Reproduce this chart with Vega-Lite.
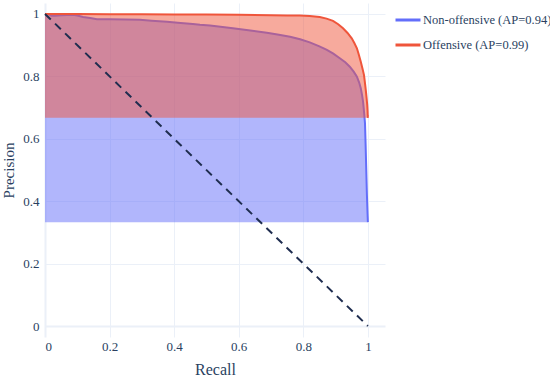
{
  "$schema": "https://vega.github.io/schema/vega-lite/v6.json",
  "width": 340,
  "height": 334,
  "autosize": {"type": "none"},
  "padding": {"left": 45, "top": 3, "right": 165, "bottom": 45},
  "background": "white",
  "config": {
    "font": "Liberation Serif, serif",
    "view": {"stroke": null},
    "axis": {
      "domain": false,
      "ticks": false,
      "labelFont": "Liberation Serif, serif",
      "titleFont": "Liberation Serif, serif",
      "labelColor": "#2a3f5f",
      "titleColor": "#2a3f5f",
      "labelFontSize": 13,
      "titleFontSize": 16,
      "titleFontWeight": "normal",
      "gridColor": "#ebf0f8",
      "gridWidth": {"condition": {"test": "datum.value === 0", "value": 2}, "value": 1}
    },
    "legend": {
      "labelFont": "Liberation Serif, serif",
      "labelColor": "#2a3f5f",
      "labelFontSize": 12.5,
      "labelLimit": 300
    }
  },
  "datasets": {
    "curves": [
      {"series": "Non-offensive (AP=0.94)", "recall": 0.0, "precision": 1.0, "base": 0.333},
      {"series": "Non-offensive (AP=0.94)", "recall": 0.01, "precision": 1.0, "base": 0.333},
      {"series": "Non-offensive (AP=0.94)", "recall": 0.02, "precision": 0.994, "base": 0.333},
      {"series": "Non-offensive (AP=0.94)", "recall": 0.031, "precision": 0.994, "base": 0.333},
      {"series": "Non-offensive (AP=0.94)", "recall": 0.05, "precision": 0.996, "base": 0.333},
      {"series": "Non-offensive (AP=0.94)", "recall": 0.087, "precision": 0.997, "base": 0.333},
      {"series": "Non-offensive (AP=0.94)", "recall": 0.1, "precision": 0.995, "base": 0.333},
      {"series": "Non-offensive (AP=0.94)", "recall": 0.118, "precision": 0.99, "base": 0.333},
      {"series": "Non-offensive (AP=0.94)", "recall": 0.14, "precision": 0.987, "base": 0.333},
      {"series": "Non-offensive (AP=0.94)", "recall": 0.161, "precision": 0.983, "base": 0.333},
      {"series": "Non-offensive (AP=0.94)", "recall": 0.2, "precision": 0.983, "base": 0.333},
      {"series": "Non-offensive (AP=0.94)", "recall": 0.25, "precision": 0.982, "base": 0.333},
      {"series": "Non-offensive (AP=0.94)", "recall": 0.294, "precision": 0.981, "base": 0.333},
      {"series": "Non-offensive (AP=0.94)", "recall": 0.33, "precision": 0.978, "base": 0.333},
      {"series": "Non-offensive (AP=0.94)", "recall": 0.378, "precision": 0.975, "base": 0.333},
      {"series": "Non-offensive (AP=0.94)", "recall": 0.42, "precision": 0.971, "base": 0.333},
      {"series": "Non-offensive (AP=0.94)", "recall": 0.458, "precision": 0.968, "base": 0.333},
      {"series": "Non-offensive (AP=0.94)", "recall": 0.48, "precision": 0.965, "base": 0.333},
      {"series": "Non-offensive (AP=0.94)", "recall": 0.511, "precision": 0.963, "base": 0.333},
      {"series": "Non-offensive (AP=0.94)", "recall": 0.55, "precision": 0.958, "base": 0.333},
      {"series": "Non-offensive (AP=0.94)", "recall": 0.582, "precision": 0.954, "base": 0.333},
      {"series": "Non-offensive (AP=0.94)", "recall": 0.63, "precision": 0.948, "base": 0.333},
      {"series": "Non-offensive (AP=0.94)", "recall": 0.687, "precision": 0.94, "base": 0.333},
      {"series": "Non-offensive (AP=0.94)", "recall": 0.72, "precision": 0.934, "base": 0.333},
      {"series": "Non-offensive (AP=0.94)", "recall": 0.759, "precision": 0.927, "base": 0.333},
      {"series": "Non-offensive (AP=0.94)", "recall": 0.79, "precision": 0.919, "base": 0.333},
      {"series": "Non-offensive (AP=0.94)", "recall": 0.82, "precision": 0.909, "base": 0.333},
      {"series": "Non-offensive (AP=0.94)", "recall": 0.85, "precision": 0.896, "base": 0.333},
      {"series": "Non-offensive (AP=0.94)", "recall": 0.873, "precision": 0.885, "base": 0.333},
      {"series": "Non-offensive (AP=0.94)", "recall": 0.893, "precision": 0.873, "base": 0.333},
      {"series": "Non-offensive (AP=0.94)", "recall": 0.913, "precision": 0.858, "base": 0.333},
      {"series": "Non-offensive (AP=0.94)", "recall": 0.93, "precision": 0.845, "base": 0.333},
      {"series": "Non-offensive (AP=0.94)", "recall": 0.944, "precision": 0.831, "base": 0.333},
      {"series": "Non-offensive (AP=0.94)", "recall": 0.956, "precision": 0.815, "base": 0.333},
      {"series": "Non-offensive (AP=0.94)", "recall": 0.966, "precision": 0.799, "base": 0.333},
      {"series": "Non-offensive (AP=0.94)", "recall": 0.973, "precision": 0.78, "base": 0.333},
      {"series": "Non-offensive (AP=0.94)", "recall": 0.978, "precision": 0.762, "base": 0.333},
      {"series": "Non-offensive (AP=0.94)", "recall": 0.982, "precision": 0.74, "base": 0.333},
      {"series": "Non-offensive (AP=0.94)", "recall": 0.985, "precision": 0.719, "base": 0.333},
      {"series": "Non-offensive (AP=0.94)", "recall": 0.987, "precision": 0.698, "base": 0.333},
      {"series": "Non-offensive (AP=0.94)", "recall": 0.989, "precision": 0.676, "base": 0.333},
      {"series": "Non-offensive (AP=0.94)", "recall": 0.991, "precision": 0.65, "base": 0.333},
      {"series": "Non-offensive (AP=0.94)", "recall": 0.993, "precision": 0.58, "base": 0.333},
      {"series": "Non-offensive (AP=0.94)", "recall": 0.995, "precision": 0.5, "base": 0.333},
      {"series": "Non-offensive (AP=0.94)", "recall": 0.997, "precision": 0.42, "base": 0.333},
      {"series": "Non-offensive (AP=0.94)", "recall": 0.999, "precision": 0.36, "base": 0.333},
      {"series": "Non-offensive (AP=0.94)", "recall": 1.0, "precision": 0.333, "base": 0.333},
      {"series": "Offensive (AP=0.99)", "recall": 0.0, "precision": 1.0, "base": 0.667},
      {"series": "Offensive (AP=0.99)", "recall": 0.1, "precision": 1.0, "base": 0.667},
      {"series": "Offensive (AP=0.99)", "recall": 0.2, "precision": 0.999, "base": 0.667},
      {"series": "Offensive (AP=0.99)", "recall": 0.3, "precision": 0.999, "base": 0.667},
      {"series": "Offensive (AP=0.99)", "recall": 0.4, "precision": 0.998, "base": 0.667},
      {"series": "Offensive (AP=0.99)", "recall": 0.5, "precision": 0.998, "base": 0.667},
      {"series": "Offensive (AP=0.99)", "recall": 0.6, "precision": 0.997, "base": 0.667},
      {"series": "Offensive (AP=0.99)", "recall": 0.7, "precision": 0.996, "base": 0.667},
      {"series": "Offensive (AP=0.99)", "recall": 0.75, "precision": 0.995, "base": 0.667},
      {"series": "Offensive (AP=0.99)", "recall": 0.789, "precision": 0.995, "base": 0.667},
      {"series": "Offensive (AP=0.99)", "recall": 0.82, "precision": 0.993, "base": 0.667},
      {"series": "Offensive (AP=0.99)", "recall": 0.851, "precision": 0.99, "base": 0.667},
      {"series": "Offensive (AP=0.99)", "recall": 0.872, "precision": 0.985, "base": 0.667},
      {"series": "Offensive (AP=0.99)", "recall": 0.892, "precision": 0.978, "base": 0.667},
      {"series": "Offensive (AP=0.99)", "recall": 0.908, "precision": 0.967, "base": 0.667},
      {"series": "Offensive (AP=0.99)", "recall": 0.923, "precision": 0.954, "base": 0.667},
      {"series": "Offensive (AP=0.99)", "recall": 0.937, "precision": 0.939, "base": 0.667},
      {"series": "Offensive (AP=0.99)", "recall": 0.95, "precision": 0.922, "base": 0.667},
      {"series": "Offensive (AP=0.99)", "recall": 0.958, "precision": 0.907, "base": 0.667},
      {"series": "Offensive (AP=0.99)", "recall": 0.966, "precision": 0.89, "base": 0.667},
      {"series": "Offensive (AP=0.99)", "recall": 0.972, "precision": 0.869, "base": 0.667},
      {"series": "Offensive (AP=0.99)", "recall": 0.978, "precision": 0.847, "base": 0.667},
      {"series": "Offensive (AP=0.99)", "recall": 0.983, "precision": 0.826, "base": 0.667},
      {"series": "Offensive (AP=0.99)", "recall": 0.988, "precision": 0.804, "base": 0.667},
      {"series": "Offensive (AP=0.99)", "recall": 0.991, "precision": 0.778, "base": 0.667},
      {"series": "Offensive (AP=0.99)", "recall": 0.994, "precision": 0.751, "base": 0.667},
      {"series": "Offensive (AP=0.99)", "recall": 0.996, "precision": 0.73, "base": 0.667},
      {"series": "Offensive (AP=0.99)", "recall": 0.998, "precision": 0.708, "base": 0.667},
      {"series": "Offensive (AP=0.99)", "recall": 0.999, "precision": 0.69, "base": 0.667},
      {"series": "Offensive (AP=0.99)", "recall": 0.9995, "precision": 0.674, "base": 0.667},
      {"series": "Offensive (AP=0.99)", "recall": 1.0, "precision": 0.667, "base": 0.667}
    ],
    "diag": [
      {"recall": 0, "precision": 1},
      {"recall": 1, "precision": 0}
    ]
  },
  "layer": [
    {
      "data": {"name": "curves"},
      "transform": [{"filter": "datum.series === 'Non-offensive (AP=0.94)'"}],
      "mark": {"type": "area", "color": "#636efa", "opacity": 0.5},
      "encoding": {
        "x": {"field": "recall", "type": "quantitative", "scale": {"domain": [0, 1.053], "nice": false, "zero": false}, "axis": {"title": "Recall", "values": [0, 0.2, 0.4, 0.6, 0.8, 1], "format": "~g", "labelPadding": 3, "titlePadding": 8}},
        "y": {"field": "precision", "type": "quantitative", "scale": {"domain": [-0.035, 1.035], "nice": false, "zero": false}, "axis": {"title": "Precision", "values": [0, 0.2, 0.4, 0.6, 0.8, 1], "format": "~g", "labelPadding": 6, "titlePadding": 6, "titleFontSize": 15}},
        "y2": {"field": "base"}
      }
    },
    {
      "data": {"name": "curves"},
      "transform": [{"filter": "datum.series === 'Non-offensive (AP=0.94)'"}],
      "mark": {"type": "line", "strokeWidth": 2},
      "encoding": {
        "x": {"field": "recall", "type": "quantitative"},
        "y": {"field": "precision", "type": "quantitative"},
        "color": {"field": "series", "type": "nominal", "scale": {"domain": ["Non-offensive (AP=0.94)", "Offensive (AP=0.99)"], "range": ["#636efa", "#ef553b"]}, "legend": {"title": null, "orient": "none", "legendX": 349, "legendY": 3, "symbolType": "stroke", "symbolSize": 625, "symbolStrokeWidth": 3, "labelOffset": 1, "rowPadding": 4, "padding": 0}}
      }
    },
    {
      "data": {"name": "curves"},
      "transform": [{"filter": "datum.series === 'Offensive (AP=0.99)'"}],
      "mark": {"type": "area", "color": "#ef553b", "opacity": 0.5},
      "encoding": {
        "x": {"field": "recall", "type": "quantitative"},
        "y": {"field": "precision", "type": "quantitative"},
        "y2": {"field": "base"}
      }
    },
    {
      "data": {"name": "curves"},
      "transform": [{"filter": "datum.series === 'Offensive (AP=0.99)'"}],
      "mark": {"type": "line", "strokeWidth": 2},
      "encoding": {
        "x": {"field": "recall", "type": "quantitative"},
        "y": {"field": "precision", "type": "quantitative"},
        "color": {"field": "series", "type": "nominal"}
      }
    },
    {
      "data": {"name": "diag"},
      "mark": {"type": "line", "color": "#1f2d4f", "strokeWidth": 2, "strokeDash": [8, 6]},
      "encoding": {
        "x": {"field": "recall", "type": "quantitative"},
        "y": {"field": "precision", "type": "quantitative"}
      }
    }
  ]
}
